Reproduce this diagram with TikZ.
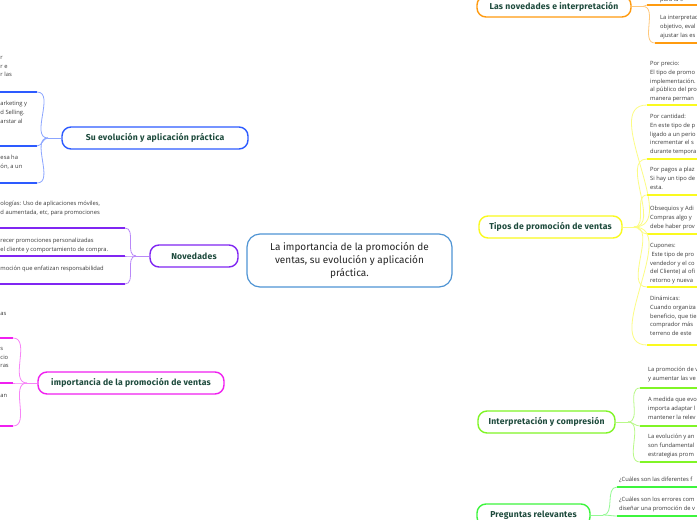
\documentclass[tikz,border=0pt]{standalone}
\usepackage{fontspec}
\setmainfont{Fira Sans}
\newfontfamily\leaffont{Open Sans}
\newfontfamily\labelfont[LetterSpace=2.5]{Fira Sans}
\usetikzlibrary{backgrounds}
\definecolor{cOrange}{HTML}{FF9B0F}
\definecolor{cBlue}{HTML}{2D5BFF}
\definecolor{cPurple}{HTML}{8026F2}
\definecolor{cMagenta}{HTML}{F020F0}
\definecolor{cYellow}{HTML}{FAFA1E}
\definecolor{cLime}{HTML}{80F526}
\definecolor{cGreen}{HTML}{3DF53D}
\definecolor{cCentral}{HTML}{4F94D4}
\definecolor{labelgreen}{HTML}{1D4A3C}
\definecolor{leafgray}{HTML}{3A3A3A}
\newcommand{\myleafR}[8]{% name, color, hub, ul x, ul y, text x, text north y, text
  \coordinate (#1s) at (#4,#5);
  \coordinate (#1e) at (700,#5);
  \draw[uline,#2] (#1s) -- (#1e);
  \draw[hubline,#2!55] (#3) to[out=0,in=180] (#1s);
  \node[leaf] (#1) at (#6,#7) {#8};
}
\newcommand{\myleafL}[7]{% name, color, hub, ul x end, ul y, text north y, text
  \coordinate (#1s) at (#4,#5);
  \coordinate (#1e) at (-3,#5);
  \draw[uline,#2] (#1e) -- (#1s);
  \draw[hubline,#2!55] (#3) to[out=180,in=0] (#1s);
  \node[leaf] (#1) at (0.3,#6) {#7};
}
\begin{document}
\begin{tikzpicture}[x=1pt,y=-1pt,
  leaf/.style={font=\leaffont\fontsize{5.8}{8.7}\selectfont, text=leafgray, anchor=north west, inner sep=0pt, align=left, execute at begin node={\rule{0pt}{4.3pt}}},
  uline/.style={line width=1.8pt},
  hubline/.style={line width=0.8pt},
  mainline/.style={line width=2pt},
  branch/.style={draw=#1, line width=1.4pt, rounded corners=9pt, fill=white, font=\labelfont\bfseries\fontsize{8.6}{10}\selectfont, text=labelgreen, minimum height=22pt, inner sep=0pt},
]
\useasboundingbox (0,0) rectangle (697,520);
\clip (0,0) rectangle (697,520);
\fill[white] (0,0) rectangle (697,520);

% central and branch boxes
\node[draw=cCentral, line width=1.2pt, rounded corners=13pt, fill=white, minimum width=205pt, minimum height=53pt, inner sep=0pt, align=center, font=\fontsize{10}{13}\selectfont, text=black!85] (central) at (349.5,260.5) {La importancia de la promoción de\\ventas, su evolución y aplicación\\práctica.};
\node[branch=cOrange, minimum width=154pt, minimum height=21pt] (nint) at (554,6.5) {Las novedades e interpretación};
\node[branch=cBlue, minimum width=186pt] (evo) at (155,138) {Su evolución y aplicación práctica};
\node[branch=cPurple, minimum width=88pt] (nov) at (194,256) {Novedades};
\node[branch=cMagenta, minimum width=186pt] (imp) at (131,383) {importancia de la promoción de ventas};
\node[branch=cYellow, minimum width=143pt] (tipos) at (550.5,227) {Tipos de promoción de ventas};
\node[branch=cLime, minimum width=137pt] (interp) at (546.5,422) {Interpretación y compresión};
\node[branch=cGreen, minimum width=113pt] (preg) at (533.5,515) {Preguntas relevantes};

% main connectors
\begin{pgfonlayer}{background}
\draw[mainline, cBlue] (central.center) .. controls (320,210) and (300,138) .. (evo.east);
\draw[mainline, cOrange] (central.center) .. controls (365,150) and (400,6.5) .. (nint.west);
\draw[mainline, cPurple] (central.center) -- (nov.east);
\draw[mainline, cMagenta] (central.center) .. controls (320,330) and (290,383) .. (imp.east);
\draw[mainline, cYellow] (central.center) .. controls (400,230) and (440,227) .. (tipos.west);
\draw[mainline, cLime] (central.center) .. controls (370,380) and (420,422) .. (interp.west);
\draw[mainline, cGreen] (central.center) .. controls (365,430) and (420,515) .. (preg.west);
\end{pgfonlayer}

% hubs
\coordinate (oh) at (643,6.5);
\coordinate (yh) at (634,227);
\coordinate (gh) at (628,422);
\coordinate (qh) at (603,515);
\coordinate (bh) at (48,138);
\coordinate (ph) at (136,256);
\coordinate (mh) at (27,383);
\draw[hubline, cOrange!55] (nint.east) -- (oh);
\draw[hubline, cYellow!55] (tipos.east) -- (yh);
\draw[hubline, cLime!55] (interp.east) -- (gh);
\draw[hubline, cGreen!55] (preg.east) -- (qh);
\draw[hubline, cBlue!55] (evo.west) -- (bh);
\draw[hubline, cPurple!55] (nov.west) -- (ph);
\draw[hubline, cMagenta!55] (imp.west) -- (mh);

% orange leaves
\myleafR{oa}{cOrange}{oh}{647}{5}{660}{-3.3}{para la s}
\myleafR{ob}{cOrange}{oh}{655}{43}{660}{15.2}{La interpretac\\objetivo, eval\\ajustar las es}

% yellow leaves
\myleafR{ya}{cYellow}{yh}{647}{105}{650}{61.2}{Por precio:\\El tipo de promo\\implementación.\\al público del pro\\manera perman}
\myleafR{yb}{cYellow}{yh}{647}{159}{650}{114.2}{Por cantidad:\\En este tipo de p\\ligado a un perio\\incrementar el s\\durante tempora}
\myleafR{yc}{cYellow}{yh}{647}{195}{650}{167.2}{Por pagos a plaz\\Si hay un tipo de\\esta.}
\myleafR{yd}{cYellow}{yh}{647}{234}{650}{206.2}{Obsequios y Adi\\Compras algo y\\debe haber prov}
\myleafR{ye}{cYellow}{yh}{647}{287}{650}{243.2}{Cupones:\\\hspace*{1.5pt}Este tipo de pro\\vendedor y el co\\del Cliente) al ofi\\retorno y nueva}
\myleafR{yf}{cYellow}{yh}{647}{345}{650}{296.2}{Dinámicas:\\Cuando organiza\\beneficio, que tie\\comprador más\\terreno de este}

% lime leaves
\myleafR{ga}{cLime}{gh}{640}{388}{648}{367.2}{La promoción de v\\y aumentar las ve}
\myleafR{gb}{cLime}{gh}{640}{426}{648}{397.2}{A medida que evo\\importa adaptar l\\mantener la relev}
\myleafR{gc}{cLime}{gh}{640}{462}{648}{434.2}{La evolución y an\\son fundamental\\estrategias prom}

% green leaves
\myleafR{qa}{cGreen}{qh}{617}{487}{619}{477.2}{¿Cuáles son las diferentes f}
\myleafR{qb}{cGreen}{qh}{617}{516}{619}{497.2}{¿Cuáles son los errores com\\diseñar una promoción de v}

% blue leaves
\myleafL{ba}{cBlue}{bh}{37}{92}{56.2}{r\\r e\\r las}
\myleafL{bb}{cBlue}{bh}{37}{146}{101.2}{arketing y\\d Selling.\\arstar al}
\myleafL{bc}{cBlue}{bh}{37}{183}{155.2}{esa ha\\ón, a un}

% purple leaves
\myleafL{pa}{cPurple}{ph}{125}{228}{201.2}{ologías: Uso de aplicaciones móviles,\\d aumentada, etc, para promociones}
\myleafL{pb}{cPurple}{ph}{125}{256}{238.2}{recer promociones personalizadas\\el cliente y comportamiento de compra.}
\myleafL{pc}{cPurple}{ph}{125}{284}{266.2}{moción que enfatizan responsabilidad}

% magenta leaves
\myleafL{ma}{cMagenta}{mh}{13}{338}{311.2}{as}
\myleafL{mb}{cMagenta}{mh}{13}{383}{347.2}{s\\cio\\ras}
\myleafL{mc}{cMagenta}{mh}{13}{426}{393.2}{an}
\end{tikzpicture}
\end{document}
